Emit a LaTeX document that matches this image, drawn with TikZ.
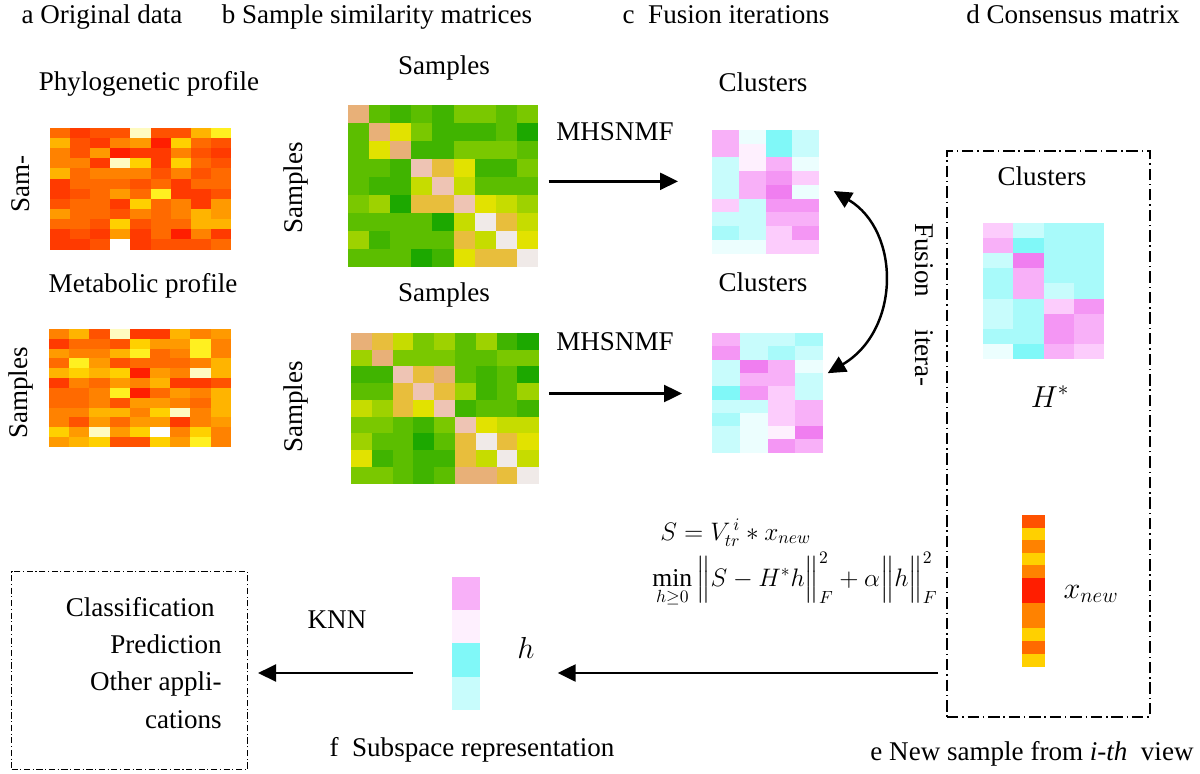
\documentclass[tikz,border=0pt]{standalone}
\usepackage{fontspec}
\setmainfont{Liberation Serif}
\usepackage{amsmath,amssymb}
\usetikzlibrary{arrows.meta,positioning}

% hot colours (data)
\definecolor{h0}{HTML}{FF1E00}
\definecolor{h1}{HTML}{FF3A00}
\definecolor{h2}{HTML}{FF5200}
\definecolor{h3}{HTML}{FF6A00}
\definecolor{h4}{HTML}{FF8200}
\definecolor{h5}{HTML}{FF9A00}
\definecolor{h6}{HTML}{FFB400}
\definecolor{h7}{HTML}{FFD000}
\definecolor{h8}{HTML}{FFF020}
\definecolor{h9}{HTML}{FFFBC0}
% green colours (similarity)
\definecolor{g0}{HTML}{1CA800}
\definecolor{g1}{HTML}{40B400}
\definecolor{g2}{HTML}{5CBE00}
\definecolor{g3}{HTML}{7AC800}
\definecolor{g4}{HTML}{9ED200}
\definecolor{g5}{HTML}{C6DC00}
\definecolor{g6}{HTML}{E2E200}
\definecolor{g7}{HTML}{E8BE3C}
\definecolor{g8}{HTML}{E8B078}
\definecolor{g9}{HTML}{EEC4B4}
\definecolor{gw}{HTML}{F0EAE8}
% cyan / pink colours (clusters)
\definecolor{c0}{HTML}{80F8F8}
\definecolor{c1}{HTML}{A8FAFA}
\definecolor{c2}{HTML}{C8FCFC}
\definecolor{c3}{HTML}{ECFEFE}
\definecolor{c4}{HTML}{FEF0FE}
\definecolor{c5}{HTML}{FCCCFC}
\definecolor{c6}{HTML}{F8B0F8}
\definecolor{c7}{HTML}{F496F4}
\definecolor{c8}{HTML}{F07EF0}

\newcommand{\px}{0.02cm}
% name, north west corner, columns, rows, cell width, cell height, colour rows
\newcommand{\heatmap}[7]{
  \begin{scope}[shift={#2}]
    \foreach \hrow [count=\ri] in {#7}{
      \foreach \hc [count=\ci] in \hrow
        \fill[\hc] ({(\ci-1)*#5},{(\ri-1)*#6}) rectangle ++(#5+0.4,#6+0.4);
    }
    \node[anchor=north west, minimum width={#3*#5*\px}, minimum height={#4*#6*\px}] (#1) at (0,0) {};
  \end{scope}
}

\begin{document}
\begin{tikzpicture}[x=0.02cm, y=-0.02cm,
  every node/.style={font=\fontsize{15.4}{18}\selectfont, inner sep=0pt},
  lbl/.style={anchor=base},
  sym/.style={anchor=base, font=\fontsize{17}{20}\selectfont},
  arr/.style={line width=1.4pt, -{Triangle[length=0.36cm, width=0.34cm]}},
  consbox/.style={draw, line width=1.1pt, dash pattern=on 6.5pt off 2.2pt on 0.8pt off 2.2pt},
  appbox/.style={draw, line width=0.6pt, dash pattern=on 3.5pt off 1.5pt on 0.6pt off 1.5pt}]
  \fill[white] (0,0) rectangle (1200,774);
  \useasboundingbox (0,0) rectangle (1200,774);

  % titles
  \node[lbl] (ta) at (102,23) {a Original data};
  \node[lbl] (tb) at (377,23) {b Sample similarity matrices};
  \node[lbl] (tc) at (726,23) {c\ \ Fusion iterations};
  \node[lbl] (td) at (1073,23) {d Consensus matrix};

  % a: original data
  \node[lbl] (phylolbl) at (149,90) {Phylogenetic profile};
  \heatmap{phylo}{(50,128)}{9}{12}{20.1}{10.1}{
    {h3,h1,h2,h2,h9,h2,h2,h6,h8},{h6,h2,h1,h4,h5,h0,h7,h3,h2},
    {h4,h2,h5,h0,h1,h1,h4,h2,h1},{h4,h4,h1,h9,h7,h1,h7,h3,h2},
    {h6,h3,h4,h4,h4,h2,h4,h2,h3},{h1,h3,h3,h3,h2,h3,h1,h3,h3},
    {h1,h2,h3,h5,h3,h8,h1,h1,h2},{h2,h3,h3,h1,h7,h3,h4,h1,h5},
    {h5,h3,h3,h2,h4,h3,h4,h6,h5},{h3,h3,h2,h7,h2,h3,h3,h6,h6},
    {h1,h2,h1,h5,h1,h3,h0,h4,h1},{h1,h1,h2,white,h1,h2,h2,h2,h3}}
  \node[rotate=90] (phylos) at (21,184) {Sam-};
  \node[lbl] (metablbl) at (143,292) {Metabolic profile};
  \heatmap{metab}{(49,329)}{9}{12}{20.2}{9.83}{
    {h4,h6,h2,h9,h1,h1,h6,h4,h5},{h1,h3,h3,h2,h7,h5,h5,h8,h4},
    {h5,h4,h4,h6,h8,h3,h4,h8,h4},{h3,h8,h5,h2,h3,h3,h3,h4,h6},
    {h6,h7,h6,h7,h0,h5,h4,h9,h6},{h1,h4,h3,h5,h4,h6,h1,h1,h2},
    {h3,h3,h4,h8,h0,h3,h5,h4,h6},{h3,h3,h4,h2,h5,h5,h4,h3,h6},
    {h4,h4,h6,h6,h4,h7,h9,h4,h6},{h4,h2,h5,h3,h5,h5,h1,h4,h5},
    {h7,h5,h9,h5,h7,white,h4,h7,h4},{h5,h6,h7,h2,h2,h7,h5,h8,h4}}
  \node[rotate=90] (metabs) at (21,393) {Samples};

  % b: similarity matrices
  \node[lbl] (simAtop) at (444,74) {Samples};
  \heatmap{simA}{(348,105)}{9}{9}{21.1}{18}{
    {g8,g2,g1,g2,g1,g3,g3,g2,g3},{g2,g8,g6,g3,g1,g1,g1,g2,g0},
    {g2,g6,g8,g1,g1,g3,g3,g3,g2},{g2,g2,g1,g9,g7,g6,g1,g1,g3},
    {g2,g1,g1,g5,g9,g5,g2,g2,g2},{g3,g4,g0,g7,g7,g9,g6,g5,g4},
    {g2,g2,g2,g2,g0,g5,gw,g7,g5},{g4,g1,g2,g2,g2,g7,g5,gw,g6},
    {g2,g2,g2,g0,g1,g6,g7,g7,gw}}
  \node[rotate=90] (simAleft) at (296,188) {Samples};
  \node[lbl] (simBtop) at (444,301) {Samples};
  \heatmap{simB}{(351,333)}{9}{9}{20.8}{16.7}{
    {g8,g7,g5,g3,g4,g2,g4,g1,g0},{g4,g8,g3,g3,g3,g2,g2,g3,g3},
    {g1,g1,g9,g7,g8,g2,g1,g2,g0},{g2,g2,g7,g9,g7,g4,g1,g2,g4},
    {g5,g4,g7,g6,g9,g1,g2,g2,g1},{g3,g3,g2,g1,g3,g9,g6,g5,g5},
    {g4,g2,g2,g0,g2,g7,gw,g7,g6},{g6,g1,g2,g1,g1,g7,g5,gw,g5},
    {g3,g3,g2,g1,g2,g8,g8,g7,gw}}
  \node[rotate=90] (simBleft) at (296,407) {Samples};

  % c: fusion iterations
  \node[lbl] (clusAtop) at (763,91) {Clusters};
  \heatmap{clusA}{(712,130)}{4}{9}{26.75}{13.7}{
    {c6,c3,c0,c2},{c6,c4,c0,c2},{c2,c4,c6,c3},{c2,c6,c7,c5},{c2,c6,c8,c3},
    {c5,c2,c7,c7},{c2,c2,c6,c6},{c1,c2,c5,c7},{c3,c3,c5,c5}}
  \node[lbl] (clusBtop) at (763,291) {Clusters};
  \heatmap{clusB}{(712,333)}{4}{9}{27.75}{13.3}{
    {c6,c2,c2,c1},{c7,c2,c1,c2},{c2,c8,c6,c3},{c2,c6,c6,c2},{c0,c7,c5,c2},
    {c2,c2,c5,c6},{c1,c3,c5,c6},{c2,c3,c4,c8},{c2,c3,c7,c6}}
  \node[lbl] (mhA) at (615,140) {MHSNMF};
  \node[lbl] (mhB) at (615,350) {MHSNMF};
  \draw[arr] ([shift={(10,-5)}]simA.east) -- ([shift={(-34,-5)}]simA.east -| clusA.west);
  \draw[arr] ([shift={(10,-15)}]simB.east) -- ([shift={(-30,-15)}]simB.east -| clusB.west);
  \draw[line width=1.4pt, {Triangle[length=0.36cm, width=0.34cm]}-{Triangle[length=0.36cm, width=0.34cm]}]
    ([shift={(14,-1)}]clusA.east) .. controls +(67,40) and +(73,-43) .. ([shift={(4,-20)}]clusB.east);
  \node[rotate=-90] (fus) at (924,305) {Fusion\hspace{1.2em}itera-};

  % d: consensus matrix
  \node[consbox, anchor=north west, minimum width=203*\px, minimum height=566*\px] (cons) at (946,150) {};
  \node[lbl] (hstartop) at (1042,185) {Clusters};
  \heatmap{hstar}{(983,223)}{4}{9}{30.25}{15.1}{
    {c5,c2,c1,c1},{c6,c0,c1,c1},{c2,c8,c1,c1},{c1,c6,c1,c1},{c1,c6,c2,c1},
    {c2,c1,c5,c7},{c2,c1,c7,c6},{c1,c1,c7,c6},{c3,c0,c6,c5}}
  \node[sym] (hstarlbl) at (1050,407) {$H^{*}$};
  \heatmap{xnew}{(1022,515)}{1}{12}{23}{12.6}{
    {h2},{h7},{h4},{h7},{h4},{h0},{h0},{h4},{h4},{h7},{h3},{h7}}
  \node[sym] (xnewlbl) at (1091,598) {$x_{new}$};

  % e, f: new sample and subspace representation
  \node[anchor=base west, font=\fontsize{14.6}{17}\selectfont] (formS) at (660,540) {$S = V_{tr}^{\,i} * x_{new}$};
  \node[anchor=base west, font=\fontsize{14.6}{17}\selectfont] (formMin) at (652,586)
    {$\min\limits_{h\geq 0}\Big\|S - H^{*}h\Big\|_F^2 + \alpha\Big\|h\Big\|_F^2$};
  \heatmap{hvec}{(452,577)}{1}{4}{28}{33.2}{{c6},{c4},{c0},{c2}}
  \node[sym] (hlbl) at (526,658) {$h$};
  \node[appbox, anchor=north west, minimum width=236*\px, minimum height=198*\px] (apps) at (11,571) {};
  \node[anchor=north east, align=right, font=\fontsize{15.4}{21.2}\selectfont] (appstxt) at (222,597)
    {Classification\kern0.14cm\\Prediction\\Other appli-\\cations};
  \node[lbl] (knn) at (337,628) {KNN};
  \coordinate (lowrow) at (0,673);
  \draw[arr] ([xshift=-8*\px]cons.west |- lowrow) -- ([xshift=77*\px]hvec.east |- lowrow);
  \draw[arr] ([xshift=-39*\px]hvec.west |- lowrow) -- ([xshift=10*\px]apps.east |- lowrow);
  \node[lbl] (tf) at (472,756) {f\ \ Subspace representation};
  \node[lbl] (te) at (1032,760) {e New sample from \textit{i-th}\ \ view};
\end{tikzpicture}
\end{document}
